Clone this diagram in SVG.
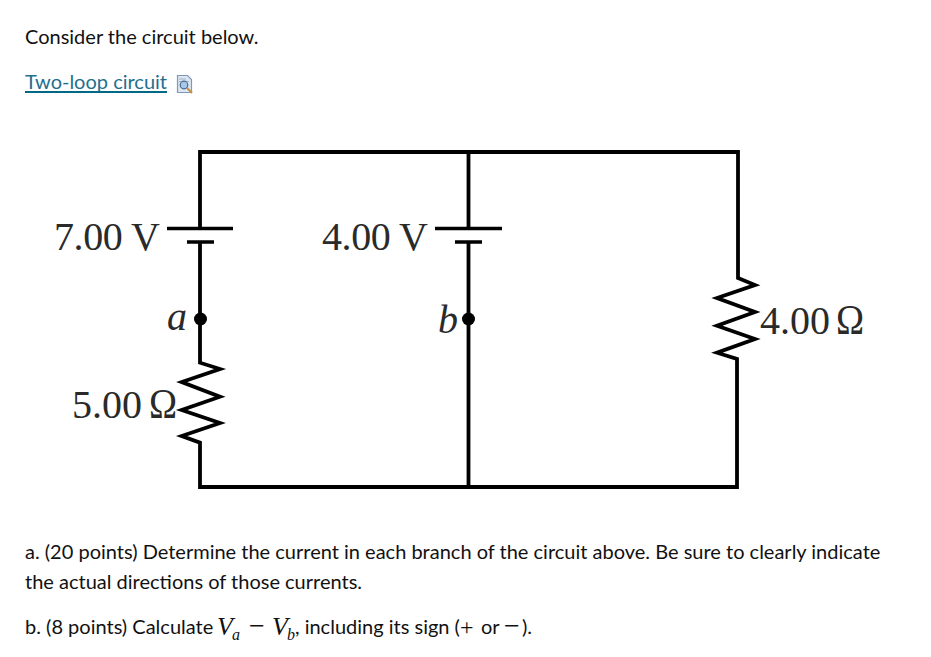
<svg xmlns="http://www.w3.org/2000/svg" width="931" height="657" viewBox="0 0 931 657">
<style>
.t{font-family:Lato,"Open Sans",sans-serif;font-size:20px;fill:#111}
.l{font-family:"Liberation Serif","DejaVu Serif",serif;font-size:40px;fill:#2a2a2a}
.o{font-size:35px}
.i{font-style:italic}
.m{font-family:"Liberation Serif",serif;font-size:28px;fill:#111}
.v{font-size:26px}
.s{font-size:16px}
.w{fill:none;stroke:#000;stroke-width:3.800;stroke-linejoin:miter}
.p{fill:none;stroke:#000;stroke-width:3.400}
</style>
<rect width="931" height="657" fill="#fff"/>
<g id="header">
<text class="t" x="25" y="44">Consider the circuit below.</text>
<text class="t" x="25" y="89" style="fill:#1f6f8f">Two-loop circuit</text>
<rect x="25" y="91" width="142" height="2" fill="#006a86"/>
<g id="icon">
<path d="M177.500 75.500h10l4 4v13h-14z" fill="#dde6f1" stroke="#7d98bd" stroke-width="1.200"/>
<path d="M179 79h7M179 81.500h10" stroke="#9db3cf" stroke-width="1"/>
<circle cx="184" cy="85" r="3.800" fill="#a9c8e8" stroke="#45688f" stroke-width="1.200"/>
<path d="M187 88l5 5" stroke="#c8903a" stroke-width="2"/>
</g>
</g>
<g id="connectors">
<path class="w" d="M200 228V152H738V278L755 285L717 298L755 312L717 325.700L755 339L717 352.700L737 359V487H200V442.700L181.700 436L220 423L181.700 410L220 396.700L181.700 382L220 369L200 362.700V242"/>
<path class="w" d="M468.500 152V228M468.500 242V487"/>
</g>
<g id="battery-7V">
<path class="p" d="M167 228.500H233M187 242H214"/>
<text class="l" x="54" y="250" textLength="106">7.00 V</text>
</g>
<g id="battery-4V">
<path class="p" d="M435 228.500H502M455 242H482"/>
<text class="l" x="322" y="250" textLength="106">4.00 V</text>
</g>
<g id="node-a">
<circle cx="200.500" cy="319" r="6.500"/>
<text class="l i" x="167" y="330">a</text>
</g>
<g id="node-b">
<circle cx="468.500" cy="319" r="6.500"/>
<text class="l i" x="438" y="333">b</text>
</g>
<g id="resistor-5">
<text class="l" x="72" y="418">5.00</text>
<text class="l o" transform="translate(149 418) scale(1.080 1.200)">Ω</text>
</g>
<g id="resistor-4">
<text class="l" x="760" y="334">4.00</text>
<text class="l o" transform="translate(836 334) scale(1.080 1.200)">Ω</text>
</g>
<g id="questions">
<text class="t" x="25" y="559">a. (20 points) Determine the current in each branch of the circuit above. Be sure to clearly indicate</text>
<text class="t" x="25" y="589">the actual directions of those currents.</text>
<text class="t" x="25" y="634">b. (8 points) Calculate</text>
<text class="m i v" x="217" y="635">V</text>
<text class="m i s" x="232" y="640">a</text>
<text class="m" x="249" y="635">−</text>
<text class="m i v" x="272" y="635">V</text>
<text class="m i s" x="287" y="640">b</text>
<text class="t" x="295" y="634">, including its sign (</text>
<text class="m" x="460" y="635" style="font-size:24px">+</text>
<text class="t" x="481" y="634">or</text>
<text class="m" x="504" y="635">−</text>
<text class="t" x="522" y="634">).</text>
</g>
</svg>
